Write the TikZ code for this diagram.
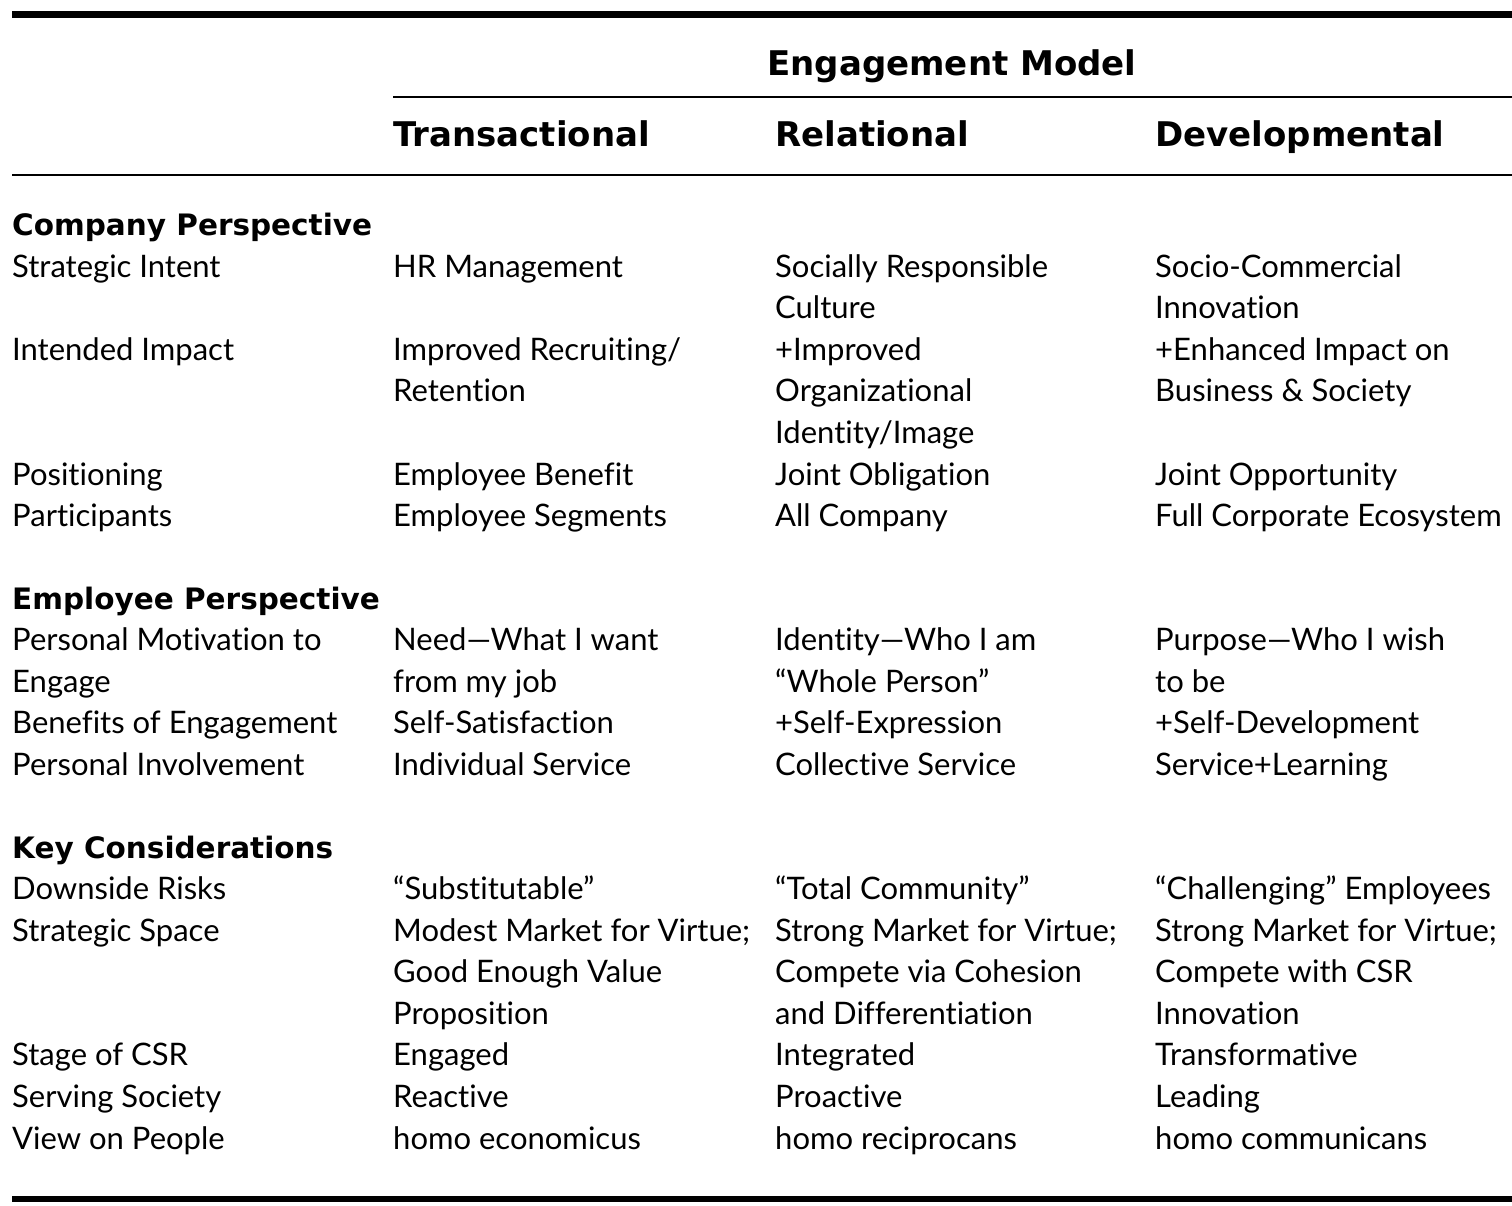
\documentclass[tikz,border=0pt]{standalone}
\usepackage{fontspec}
\setmainfont[Ligatures={NoCommon}]{Lato}
\newfontfamily\hdfont{DejaVu Sans}
\begin{document}
\begin{tikzpicture}[x=1pt,y=-1pt,
  txt/.style={anchor=base west,inner sep=0pt,font=\fontsize{31}{32}\selectfont},
  hd/.style={txt,font=\fontsize{29.5}{30}\selectfont\hdfont\bfseries},
  colhd/.style={txt,font=\fontsize{34}{36}\selectfont\hdfont\bfseries}]
\useasboundingbox (0,0) rectangle (1512,1205);
\draw[line width=7] (12,14) -- (1512,14);
\draw[line width=2.5] (393,97) -- (1512,97);
\draw[line width=1.5] (12,175) -- (1512,175);
\draw[line width=6] (12,1199) -- (1512,1199);
\node[colhd,anchor=base] (em) at (952,75) {Engagement Model};
\node[colhd] (c1) at (393,146) {Transactional};
\node[colhd] (c2) at (775,146) {Relational};
\node[colhd] (c3) at (1155,146) {Developmental};
\newcommand{\rowx}[5]{%
 \node[txt] at (12,#1) {#2};\node[txt] at (393,#1) {#3};
 \node[txt] at (775,#1) {#4};\node[txt] at (1155,#1) {#5};}
\node[hd] (s1) at (12,235) {Company Perspective};
\rowx{277}{Strategic Intent}{HR Management}{Socially Responsible}{Socio-Commercial}
\rowx{318}{}{}{Culture}{Innovation}
\rowx{360}{Intended Impact}{Improved Recruiting/}{+Improved}{+Enhanced Impact on}
\rowx{401}{}{Retention}{Organizational}{Business \& Society}
\rowx{443}{}{}{Identity/Image}{}
\rowx{485}{Positioning}{Employee Benefit}{Joint Obligation}{Joint Opportunity}
\rowx{526}{Participants}{Employee Segments}{All Company}{Full Corporate Ecosystem}
\node[hd] (s2) at (12,609) {Employee Perspective};
\rowx{650}{Personal Motivation to}{Need---What I want}{Identity---Who I am}{Purpose---Who I wish}
\rowx{692}{Engage}{from my job}{``Whole Person''}{to be}
\rowx{733}{Benefits of Engagement}{Self-Satisfaction}{+Self-Expression}{+Self-Development}
\rowx{775}{Personal Involvement}{Individual Service}{Collective Service}{Service+Learning}
\node[hd] (s3) at (12,858) {Key Considerations};
\rowx{899}{Downside Risks}{``Substitutable''}{``Total Community''}{``Challenging'' Employees}
\rowx{941}{Strategic Space}{Modest Market for Virtue;}{Strong Market for Virtue;}{Strong Market for Virtue;}
\rowx{982}{}{Good Enough Value}{Compete via Cohesion}{Compete with CSR}
\rowx{1024}{}{Proposition}{and Differentiation}{Innovation}
\rowx{1065}{Stage of CSR}{Engaged}{Integrated}{Transformative}
\rowx{1107}{Serving Society}{Reactive}{Proactive}{Leading}
\rowx{1149}{View on People}{homo economicus}{homo reciprocans}{homo communicans}
\end{tikzpicture}
\end{document}
